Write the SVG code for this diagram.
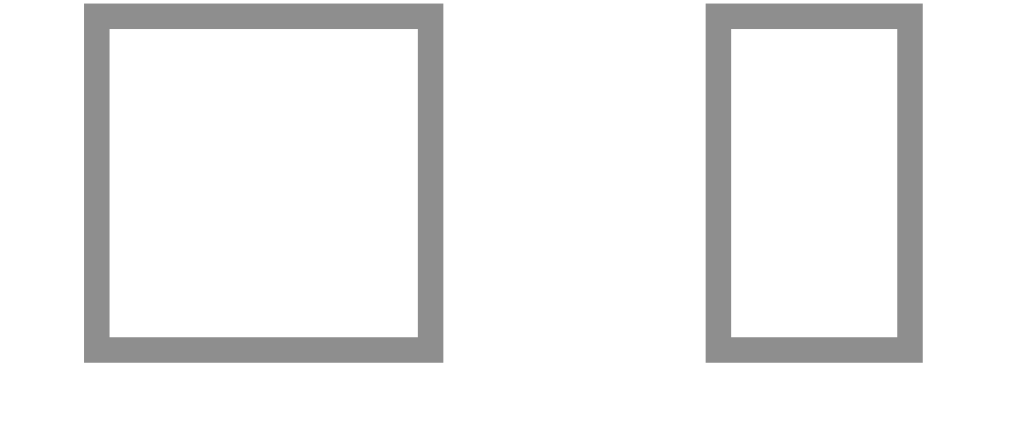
<svg xmlns="http://www.w3.org/2000/svg" width="1014" height="445" viewBox="0 0 1014 445">
<style>
.box{fill:#ffffff;stroke:#8e8e8e;stroke-width:25.5}
</style>
<rect width="1014" height="445" fill="#ffffff"/>
<g id="node-left">
<rect class="box" x="96.8" y="16.3" width="333.8" height="333.7"/>
</g>
<g id="node-right">
<rect class="box" x="718.4" y="16.3" width="191.6" height="333.7"/>
</g>
<g id="connectors"></g>
</svg>
